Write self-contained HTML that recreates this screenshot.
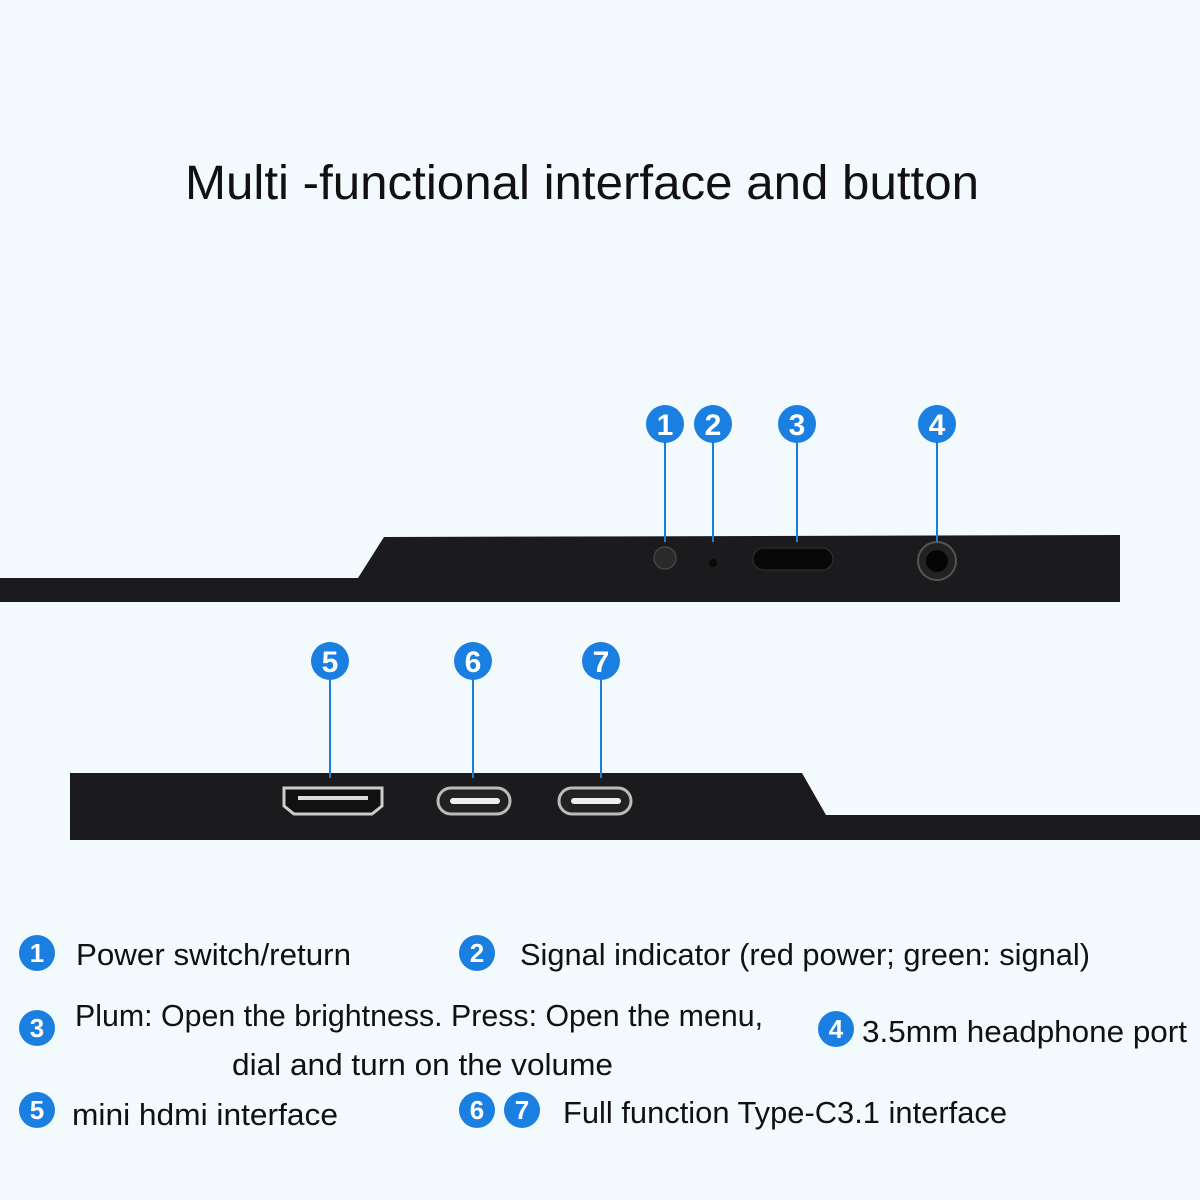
<!DOCTYPE html>
<html><head><style>html,body{margin:0;padding:0;background:#f3fafd;}svg{display:block;}</style></head>
<body>
<svg width="1200" height="1200" viewBox="0 0 1200 1200" xmlns="http://www.w3.org/2000/svg" font-family="Liberation Sans, sans-serif">
<rect width="1200" height="1200" fill="#f3fafd"/>
<text x="185" y="199" font-size="48" fill="#111" textLength="794" lengthAdjust="spacingAndGlyphs">Multi -functional interface and button</text>
<!-- top bar -->
<path d="M0 578 L358 578 L384 537 L1120 535 L1120 602 L0 602 Z" fill="#1b1b1d"/>
<circle cx="665" cy="558" r="11" fill="#2a2a2a" stroke="#444" stroke-width="1.5"/>
<circle cx="713" cy="563" r="4" fill="#0a0a0a"/>
<rect x="753" y="548" width="80" height="22" rx="11" fill="#080808" stroke="#333"/>
<circle cx="937" cy="561" r="19" fill="#222" stroke="#555" stroke-width="2"/>
<circle cx="937" cy="561" r="11" fill="#050505"/>
<!-- bottom bar -->
<path d="M70 773 L802 773 L826 815 L1200 815 L1200 840 L70 840 Z" fill="#1b1b1d"/>
<path d="M284 788 L382 788 L382 806 L372 814 L294 814 L284 806 Z" fill="#111" stroke="#ccc" stroke-width="3"/>
<rect x="298" y="796" width="70" height="4" fill="#ddd"/>
<rect x="438" y="788" width="72" height="26" rx="13" fill="#222" stroke="#bbb" stroke-width="3"/>
<rect x="450" y="798" width="50" height="6" rx="3" fill="#eee"/>
<rect x="559" y="788" width="72" height="26" rx="13" fill="#222" stroke="#bbb" stroke-width="3"/>
<rect x="571" y="798" width="50" height="6" rx="3" fill="#eee"/>
<!-- leaders -->
<g stroke="#1a7fd8" stroke-width="2">
<line x1="665" y1="440" x2="665" y2="542"/><line x1="713" y1="440" x2="713" y2="542"/>
<line x1="797" y1="440" x2="797" y2="542"/><line x1="937" y1="440" x2="937" y2="542"/>
<line x1="330" y1="677" x2="330" y2="778"/><line x1="473" y1="677" x2="473" y2="778"/>
<line x1="601" y1="677" x2="601" y2="778"/>
</g>
<g font-size="30" fill="#fff" text-anchor="middle" font-weight="bold">
<g><circle cx="665" cy="424" r="19" fill="#1a7fe0"/><text x="665" y="435">1</text></g>
<g><circle cx="713" cy="424" r="19" fill="#1a7fe0"/><text x="713" y="435">2</text></g>
<g><circle cx="797" cy="424" r="19" fill="#1a7fe0"/><text x="797" y="435">3</text></g>
<g><circle cx="937" cy="424" r="19" fill="#1a7fe0"/><text x="937" y="435">4</text></g>
<g><circle cx="330" cy="661" r="19" fill="#1a7fe0"/><text x="330" y="672">5</text></g>
<g><circle cx="473" cy="661" r="19" fill="#1a7fe0"/><text x="473" y="672">6</text></g>
<g><circle cx="601" cy="661" r="19" fill="#1a7fe0"/><text x="601" y="672">7</text></g>
</g>
<g font-size="26" fill="#fff" text-anchor="middle" font-weight="bold">
<circle cx="37" cy="953" r="18" fill="#1a7fe0"/><text x="37" y="962">1</text>
<circle cx="477" cy="953" r="18" fill="#1a7fe0"/><text x="477" y="962">2</text>
<circle cx="37" cy="1028" r="18" fill="#1a7fe0"/><text x="37" y="1037">3</text>
<circle cx="836" cy="1029" r="18" fill="#1a7fe0"/><text x="836" y="1038">4</text>
<circle cx="37" cy="1110" r="18" fill="#1a7fe0"/><text x="37" y="1119">5</text>
<circle cx="477" cy="1110" r="18" fill="#1a7fe0"/><text x="477" y="1119">6</text>
<circle cx="522" cy="1110" r="18" fill="#1a7fe0"/><text x="522" y="1119">7</text>
</g>
<g font-size="31" fill="#111" lengthAdjust="spacingAndGlyphs">
<text x="76" y="965" textLength="275" lengthAdjust="spacingAndGlyphs">Power switch/return</text>
<text x="520" y="965" textLength="570" lengthAdjust="spacingAndGlyphs">Signal indicator (red power; green: signal)</text>
<text x="75" y="1026" textLength="688" lengthAdjust="spacingAndGlyphs">Plum: Open the brightness. Press: Open the menu,</text>
<text x="232" y="1075" textLength="381" lengthAdjust="spacingAndGlyphs">dial and turn on the volume</text>
<text x="862" y="1042" textLength="325" lengthAdjust="spacingAndGlyphs">3.5mm headphone port</text>
<text x="72" y="1125" textLength="266" lengthAdjust="spacingAndGlyphs">mini hdmi interface</text>
<text x="563" y="1123" textLength="444" lengthAdjust="spacingAndGlyphs">Full function Type-C3.1 interface</text>
</g>
</svg>
</body></html>
